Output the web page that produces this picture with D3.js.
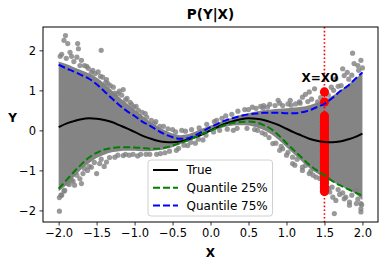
<!DOCTYPE html>
<html>
<head>
<meta charset="utf-8">
<script src="https://cdn.jsdelivr.net/npm/d3@7"></script>
<style>
  body { margin: 0; background: #fff; }
  text { font-family: "DejaVu Sans", sans-serif; }
</style>
</head>
<body>
<div id="chart"></div>
<script>
var width = 387,
    height = 268;

// grid of x values used by the curves
var xs = [-2.0, -1.9, -1.8, -1.7, -1.6, -1.5, -1.4, -1.3, -1.2, -1.1, -1.0, -0.9, -0.8, -0.7, -0.6, -0.5, -0.4, -0.3, -0.2, -0.1,
          0.0, 0.1, 0.2, 0.3, 0.4, 0.5, 0.6, 0.7, 0.8, 0.9, 1.0, 1.1, 1.2, 1.3, 1.4, 1.5, 1.6, 1.7, 1.8, 1.9, 2.0];

var trueY = [0.08, 0.17, 0.23, 0.28, 0.30, 0.29, 0.26, 0.21, 0.13, 0.05, -0.04, -0.13, -0.20, -0.26, -0.29, -0.30, -0.28, -0.23, -0.17, -0.09,
             0.0, 0.09, 0.17, 0.23, 0.28, 0.30, 0.29, 0.26, 0.20, 0.13, 0.04, -0.05, -0.13, -0.21, -0.26, -0.29, -0.30, -0.28, -0.23, -0.17, -0.08];

var q25 = [-1.46, -1.25, -1.04, -0.85, -0.68, -0.56, -0.48, -0.44, -0.42, -0.42, -0.43, -0.44, -0.46, -0.46, -0.43, -0.38, -0.32, -0.25, -0.17, -0.08,
           -0.01, 0.07, 0.14, 0.19, 0.21, 0.22, 0.20, 0.13, 0.03, -0.13, -0.32, -0.50, -0.68, -0.86, -1.00, -1.12, -1.26, -1.37, -1.46, -1.55, -1.63];

var q75 = [1.64, 1.55, 1.47, 1.38, 1.29, 1.15, 0.98, 0.80, 0.63, 0.48, 0.36, 0.22, 0.12, 0.00, -0.10, -0.17, -0.21, -0.20, -0.12, -0.02,
           0.08, 0.17, 0.25, 0.31, 0.36, 0.40, 0.42, 0.44, 0.44, 0.44, 0.43, 0.43, 0.45, 0.50, 0.58, 0.66, 0.80, 0.97, 1.10, 1.28, 1.45];

// dense part of the grey sample cloud (top / bottom edge)
var cloudTop = [1.72, 1.66, 1.58, 1.50, 1.42, 1.32, 1.17, 1.00, 0.83, 0.67, 0.52, 0.37, 0.22, 0.10, 0.0, -0.08, -0.12, -0.10, -0.03, 0.05,
                0.12, 0.19, 0.27, 0.33, 0.39, 0.43, 0.47, 0.50, 0.52, 0.54, 0.55, 0.57, 0.59, 0.63, 0.69, 0.76, 0.86, 0.98, 1.13, 1.28, 1.44];
var cloudBottom = [-1.52, -1.37, -1.17, -0.97, -0.82, -0.69, -0.61, -0.55, -0.52, -0.51, -0.51, -0.52, -0.52, -0.50, -0.47, -0.42, -0.35, -0.28, -0.20, -0.11,
                   -0.03, 0.04, 0.09, 0.12, 0.13, 0.12, 0.08, 0.01, -0.10, -0.25, -0.42, -0.60, -0.77, -0.94, -1.07, -1.19, -1.29, -1.37, -1.47, -1.57, -1.74];

// individual grey samples around the dense part, [x, y]
var looseSamples = [
  // above, left
  [-1.91, 2.37], [-1.93, 2.25], [-1.88, 2.17], [-1.75, 2.17], [-1.74, 2.04], [-1.44, 2.00], [-1.96, 1.90], [-1.83, 1.85],
  [-1.76, 1.83], [-1.70, 1.75], [-1.61, 1.55], [-1.55, 1.50], [-1.48, 1.46], [-1.37, 1.27], [-1.35, 1.17], [-1.15, 1.02],
  [-1.26, 0.93], [-1.04, 0.65], [-0.93, 0.34], [-0.82, 0.15], [-1.85, 1.95], [-1.66, 1.62], [-1.42, 1.33], [-1.20, 0.98],
  [-1.10, 0.80], [-0.98, 0.60], [-0.86, 0.42], [-0.72, 0.22], [-0.62, 0.10], [-0.50, 0.02], [-0.38, 0.00],
  [-1.98, 1.85], [-1.90, 1.80], [-1.80, 1.72], [-1.72, 1.62], [-1.63, 1.60], [-1.57, 1.45], [-1.52, 1.42], [-1.45, 1.35],
  [-1.38, 1.20], [-1.32, 1.12], [-1.28, 1.08], [-1.22, 0.92], [-1.17, 0.88], [-1.12, 0.76], [-1.06, 0.70], [-1.01, 0.58],
  [-0.95, 0.50], [-0.90, 0.45], [-0.84, 0.33], [-0.78, 0.25], [-0.74, 0.17], [-0.67, 0.10], [-0.56, 0.04], [-0.46, -0.04],
  // below, left
  [-1.99, -2.02], [-1.99, -1.68], [-1.96, -1.62], [-1.88, -1.33], [-1.79, -1.37], [-1.70, -1.33], [-1.72, -1.21], [-1.68, -1.08],
  [-1.57, -0.92], [-1.50, -1.08], [-1.46, -0.83], [-1.37, -0.79], [-1.26, -0.67], [-1.15, -0.63], [-1.07, -0.62], [-0.96, -0.64],
  [-0.85, -0.60], [-0.71, -0.60], [-0.60, -0.56], [-1.62, -1.00], [-1.92, -1.50], [-1.83, -1.25], [-1.40, -0.90], [-0.45, -0.50],
  [-0.30, -0.38], [-1.97, -1.62], [-1.93, -1.52], [-1.86, -1.35], [-1.81, -1.27], [-1.76, -1.12], [-1.66, -0.95], [-1.60, -0.90],
  [-1.53, -0.80], [-1.44, -0.72], [-1.33, -0.68], [-1.22, -0.62], [-1.12, -0.60], [-1.02, -0.60], [-0.92, -0.60], [-0.80, -0.60],
  [-0.66, -0.58], [-0.54, -0.52], [-0.42, -0.45], [-0.35, -0.37], [-0.26, -0.30], [-0.16, -0.22], [-0.06, -0.12],
  // middle
  [-0.20, -0.32], [-0.10, -0.24], [0.05, 0.22], [0.15, 0.30], [0.30, 0.00], [0.45, 0.52], [0.55, 0.58], [0.62, 0.00],
  [0.70, 0.62], [0.72, -0.10], [-0.33, -0.02], [-0.25, 0.02], [-0.15, 0.06], [-0.05, 0.15], [0.08, 0.25], [0.20, 0.36],
  [0.28, 0.40], [0.36, 0.48], [0.50, 0.52], [0.60, 0.55], [0.66, 0.60], [0.04, -0.04], [0.12, 0.00], [0.22, 0.03],
  [0.35, 0.05], [0.48, 0.05], [0.58, 0.02], [0.68, -0.06],
  // above, right
  [1.87, 1.93], [1.89, 1.67], [1.74, 1.54], [1.76, 1.37], [1.65, 1.29], [1.59, 1.08], [1.41, 0.71], [1.39, 0.58],
  [1.21, 0.83], [1.17, 0.71], [1.06, 0.63], [0.91, 0.68], [0.78, 0.65], [0.69, 0.56], [1.30, 0.96], [1.37, 1.04],
  [0.89, 0.75], [1.94, 1.62], [1.98, 1.75], [1.80, 1.45], [1.05, 0.75], [1.25, 0.90], [0.75, 0.58], [0.85, 0.62],
  [0.95, 0.62], [1.02, 0.66], [1.12, 0.66], [1.18, 0.68], [1.28, 0.72], [1.33, 0.78], [1.45, 0.82], [1.55, 0.88],
  [1.62, 1.00], [1.68, 1.10], [1.72, 1.12], [1.82, 1.28], [1.86, 1.38], [1.95, 1.50], [2.00, 1.56],
  // below, right
  [0.82, -0.33], [0.91, -0.50], [1.00, -0.62], [1.08, -0.83], [1.21, -1.00], [1.30, -1.08], [1.39, -1.17], [1.57, -1.54],
  [1.65, -1.75], [1.63, -2.08], [1.78, -1.67], [1.83, -1.79], [1.92, -1.83], [1.98, -1.96], [1.98, -2.04], [1.92, -1.50],
  [0.95, -0.46], [1.08, -0.67], [1.11, -0.87], [1.21, -0.92], [1.35, -1.12], [1.61, -1.67], [1.76, -1.71], [1.83, -1.87],
  [1.98, -1.83], [1.70, -1.60], [1.55, -1.45], [0.77, -0.18], [0.86, -0.32], [0.93, -0.40], [1.02, -0.55], [1.14, -0.72],
  [1.25, -0.88], [1.32, -1.02], [1.44, -1.20], [1.52, -1.30], [1.60, -1.42], [1.68, -1.48], [1.74, -1.56], [1.86, -1.62],
  [1.94, -1.72], [1.99, -1.86]
];

// samples at X = X0
var x0 = 1.5;
var x0Y = [0.96, 0.71, 0.36, 0.31, 0.22, 0.19, 0.12, 0.04, -0.02, -0.09, -0.13, -0.21, -0.24, -0.33, -0.38, -0.41, -0.50, -0.53, -0.60, -0.66,
           -0.71, -0.77, -0.82, -0.90, -0.94, -1.01, -1.07, -1.12, -1.18, -1.26, -1.33, -1.41, -1.46, -1.53];

var xTicks = [-2.0, -1.5, -1.0, -0.5, 0.0, 0.5, 1.0, 1.5, 2.0];
var yTicks = [-2, -1, 0, 1, 2];

var legendItems = [
  {label: "True", color: "black", dash: null},
  {label: "Quantile 25%", color: "green", dash: "7,3"},
  {label: "Quantile 75%", color: "blue", dash: "7,3"}
];

var margin = {left: 43, right: 9, top: 27, bottom: 46};
var plotW = width - margin.left - margin.right,
    plotH = height - margin.top - margin.bottom;

var svg = d3.select('#chart').append('svg')
    .attr('width', width)
    .attr('height', height);

var scaleX = d3.scaleLinear().domain([-2.206, 2.205]).range([0, plotW]);
var scaleY = d3.scaleLinear().domain([-2.29, 2.583]).range([plotH, 0]);

var g = svg.append('g')
    .attr("transform", "translate(" + margin.left + "," + margin.top + ")");

g.append("clipPath").attr("id", "clip")
  .append("rect").attr("width", plotW).attr("height", plotH);

var plot = g.append("g").attr("clip-path", "url(#clip)");

// grey cloud
var band = d3.area()
    .x((d, i) => scaleX(xs[i]))
    .y0((d, i) => scaleY(cloudBottom[i]))
    .y1(d => scaleY(d))
    .curve(d3.curveMonotoneX);
plot.append("path")
    .datum(cloudTop)
    .attr("d", band)
    .attr("fill", "#848484");

plot.selectAll(".loose").data(looseSamples).enter()
  .append("circle")
    .attr("class", "loose")
    .attr("cx", d => scaleX(d[0]))
    .attr("cy", d => scaleY(d[1]))
    .attr("r", 2.6)
    .attr("fill", "gray")
    .attr("opacity", 0.8);

// samples at X0
plot.selectAll(".x0pt").data(x0Y).enter()
  .append("circle")
    .attr("class", "x0pt")
    .attr("cx", scaleX(x0))
    .attr("cy", d => scaleY(d))
    .attr("r", 4.6)
    .attr("fill", "red");

plot.append("line")
    .attr("x1", scaleX(x0)).attr("x2", scaleX(x0))
    .attr("y1", 0).attr("y2", plotH)
    .attr("stroke", "red")
    .attr("stroke-width", 1.6)
    .attr("stroke-dasharray", "1.6,2.2");

// curves
function curveLine(vals) {
  return d3.line()
    .x((d, i) => scaleX(xs[i]))
    .y(d => scaleY(d))
    .curve(d3.curveMonotoneX)(vals);
}
plot.append("path").attr("d", curveLine(trueY))
    .attr("fill", "none").attr("stroke", "black").attr("stroke-width", 2);
plot.append("path").attr("d", curveLine(q25))
    .attr("fill", "none").attr("stroke", "green").attr("stroke-width", 2).attr("stroke-dasharray", "7,3");
plot.append("path").attr("d", curveLine(q75))
    .attr("fill", "none").attr("stroke", "blue").attr("stroke-width", 2).attr("stroke-dasharray", "7,3");

g.append("text")
    .attr("x", scaleX(1.44))
    .attr("y", scaleY(1.2))
    .attr("text-anchor", "middle")
    .attr("font-size", 12)
    .attr("font-weight", "bold")
    .text("X=X0");

// axes
var axisX = d3.axisBottom(scaleX).tickValues(xTicks).tickFormat(d3.format(".1f")).tickSize(3.5).tickPadding(3.5);
var axisY = d3.axisLeft(scaleY).tickValues(yTicks).tickFormat(d3.format("d")).tickSize(3.5).tickPadding(3.5);

var gx = g.append("g").attr("transform", "translate(0," + plotH + ")").call(axisX);
var gy = g.append("g").call(axisY);
[gx, gy].forEach(a => {
  a.select(".domain").remove();
  a.selectAll("text").attr("font-size", 11.5).attr("font-family", "DejaVu Sans").attr("fill", "black");
  a.selectAll("line").attr("stroke-width", 0.8);
});

g.append("rect")
    .attr("width", plotW).attr("height", plotH)
    .attr("fill", "none").attr("stroke", "black").attr("stroke-width", 1);

// legend
var legend = g.append("g").attr("transform", "translate(" + (148 - margin.left) + "," + (160 - margin.top) + ")");
legend.append("rect")
    .attr("width", 124.5).attr("height", 56)
    .attr("rx", 3)
    .attr("fill", "white").attr("fill-opacity", 0.8)
    .attr("stroke", "#d0d0d0").attr("stroke-width", 1);
var rows = legend.selectAll(".lrow").data(legendItems).enter()
  .append("g").attr("class", "lrow")
    .attr("transform", (d, i) => "translate(0," + (10 + 17.8 * i) + ")");
rows.append("line")
    .attr("x1", 5).attr("x2", 30)
    .attr("stroke", d => d.color).attr("stroke-width", 2)
    .attr("stroke-dasharray", d => d.dash);
rows.append("text")
    .attr("x", 38.5).attr("y", 4.3)
    .attr("font-size", 12)
    .text(d => d.label);

// titles
svg.append("text")
    .attr("x", margin.left + plotW / 2).attr("y", 19)
    .attr("text-anchor", "middle")
    .attr("font-size", 13.5).attr("font-weight", "bold")
    .text("P(Y|X)");
svg.append("text")
    .attr("x", margin.left + plotW / 2).attr("y", 257)
    .attr("text-anchor", "middle")
    .attr("font-size", 12).attr("font-weight", "bold")
    .text("X");
svg.append("text")
    .attr("x", 12.5).attr("y", 121.7)
    .attr("text-anchor", "middle")
    .attr("font-size", 12).attr("font-weight", "bold")
    .text("Y");
</script>
</body>
</html>
